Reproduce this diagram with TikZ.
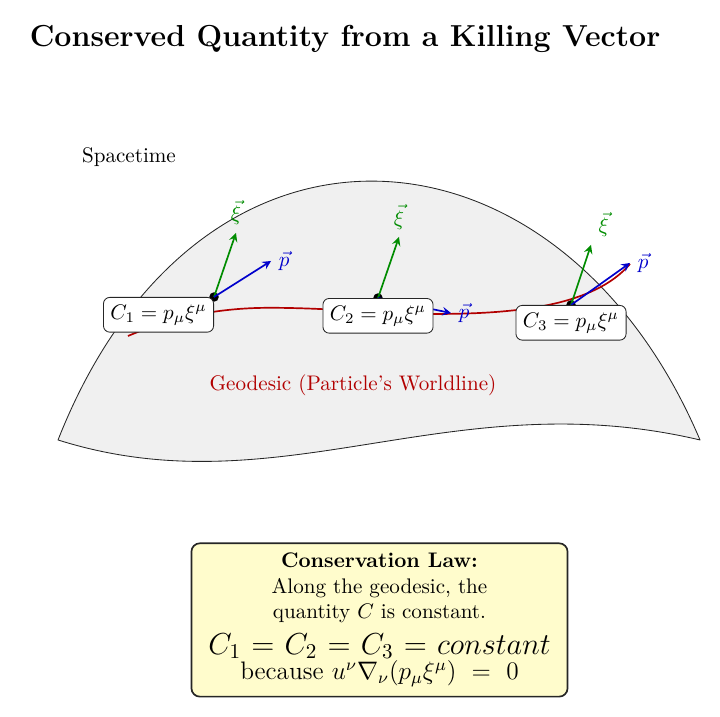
\documentclass[tikz,border=0pt]{standalone}
\usepackage{amsfonts, amssymb, amsmath}
\usepackage{tikz}
\usetikzlibrary{arrows}
\tikzset{dot/.style={circle,fill=black,inner sep=0pt,minimum size=4.5pt}}
\tikzset{cq/.style={draw=black!85,fill=white,rounded corners=3pt}}
\tikzset{xi/.style={->,thick,green!55!black}}
\tikzset{pv/.style={->,thick,blue!80!black}}
\colorlet{geo}{red!70!black}

\begin{document}
\begin{tikzpicture}[line join=round,>=stealth]
  \useasboundingbox (0,0) rectangle (12,11.95);
  \node[font=\Large\bfseries] (T) at (5.75,11.3) {Conserved Quantity from a Killing Vector};
  % spacetime sheet
  \filldraw[fill=black!6,draw=black!85] (0.967,4.617) .. controls (3.333,10.617) and (9.333,10.117) .. (11.667,4.617)
    .. controls (7.5,5.6) and (4.667,3.45) .. (0.967,4.617) -- cycle;
  \node (S) at (2.15,9.33) {Spacetime};
  % geodesic
  \draw[thick,geo] (2.133,6.35) .. controls (3.0,6.72) and (3.8,6.82) .. (4.5,6.82)
    .. controls (5.5,6.82) and (6.4,6.717) .. (7.25,6.717)
    .. controls (8.6,6.717) and (9.9,6.85) .. (10.5,7.55);
  \node[geo] (G) at (5.883,5.533) {Geodesic (Particle's Worldline)};
  \node[dot] (P1) at (3.567,7) {};
  \node[dot] (P2) at (6.3,6.983) {};
  \node[dot] (P3) at (9.517,6.867) {};
  \coordinate (X1) at (3.933,8.067);
  \coordinate (X2) at (6.65,8.0);
  \coordinate (X3) at (9.85,7.867);
  \coordinate (Q1) at (4.517,7.6);
  \coordinate (Q2) at (7.517,6.733);
  \coordinate (Q3) at (10.5,7.567);
  \draw[xi] (P1.center) -- (X1) node[above] {$\vec{\xi}$};
  \draw[pv] (P1.center) -- (Q1) node[right] {$\vec{p}$};
  \draw[xi] (P2.center) -- (X2) node[above] {$\vec{\xi}$};
  \draw[pv] (P2.center) -- (Q2) node[right] {$\vec{p}$};
  \draw[xi] (P3.center) -- (X3) node[above,xshift=6pt] {$\vec{\xi}$};
  \draw[pv] (P3.center) -- (Q3) node[right] {$\vec{p}$};
  \node[cq,anchor=north east] (C1) at (P1.center) {$C_1 = p_\mu\xi^\mu$};
  \node[cq,anchor=north] (C2) at (P2.center) {$C_2 = p_\mu\xi^\mu$};
  \node[cq,anchor=north] (C3) at (P3.center) {$C_3 = p_\mu\xi^\mu$};
  % conservation law
  \node[draw=black!85,thick,rounded corners=4pt,fill=yellow!20,align=center,inner xsep=8pt,inner ysep=4.7pt] (L) at (6.325,1.617)
    {\textbf{Conservation Law:}\\ Along the geodesic, the\\ quantity $C$ is constant.\\[5pt]
     \Large\thickmuskip=6mu $C_1 = C_2 = C_3 = constant$\\ \large because $u^\nu\nabla_\nu(p_\mu\xi^\mu)\ =\ 0$};
\end{tikzpicture}
\end{document}
